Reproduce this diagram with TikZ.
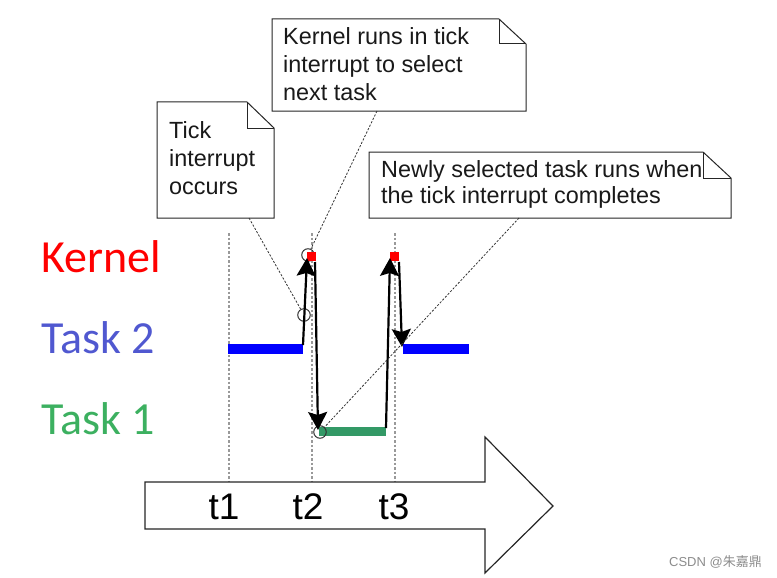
\documentclass[tikz,border=0pt]{standalone}
\usepackage{fontspec}
\setmainfont{Liberation Sans}
\newfontfamily\labfont{Carlito}
\newfontfamily\cjkfont{Noto Sans CJK SC}
\usetikzlibrary{arrows.meta}
\definecolor{kred}{HTML}{FF0000}
\definecolor{tblue}{HTML}{5058D0}
\definecolor{tgreen}{HTML}{3CB060}
\definecolor{bargreen}{HTML}{339966}
\definecolor{barblue}{HTML}{0000FF}
\tikzset{
  calloutbox/.style={draw=black!85, line width=1pt, fill=white},
  callouttext/.style={font=\fontsize{23.4}{28}\selectfont, align=left, anchor=base west, inner sep=0pt, text=black!90},
  pointer/.style={draw=black!80, line width=0.8pt, dash pattern=on 2.2pt off 1.6pt},
  guide/.style={draw=black!40, line width=1.6pt, dash pattern=on 2.5pt off 2pt},
  rowlabel/.style={font=\labfont\fontsize{46}{50}\selectfont, anchor=base west, inner sep=0pt},
  flow/.style={draw=black, line width=2.2pt, -{Stealth[length=18pt,width=19pt,inset=3pt]}},
  mark circ/.style={circle, draw=black!80, line width=1pt, minimum size=12.5pt, inner sep=0pt},
  tlabel/.style={font=\fontsize{37}{40}\selectfont, anchor=base, inner sep=0pt},
}
\begin{document}
\begin{tikzpicture}[x=1pt,y=-1pt]
\useasboundingbox (0,0) rectangle (777,578);
% guides
\coordinate (g1t) at (229,233); \coordinate (g1b) at (229,482);
\coordinate (g2t) at (312,233); \coordinate (g2b) at (312,482);
\coordinate (g3t) at (395,233); \coordinate (g3b) at (395,482);
\draw[guide] (g1t) -- (g1b);
\draw[guide] (g2t) -- (g2b);
\draw[guide] (g3t) -- (g3b);
% time arrow
\draw[draw=black!85, line width=1.2pt, fill=white] (145,482) -- (485,482) -- (485,437) -- (553,506) -- (485,573) -- (485,529) -- (145,529) -- cycle;
\node[tlabel] (t1) at (224,519) {t1};
\node[tlabel] (t2) at (308,519) {t2};
\node[tlabel] (t3) at (394,519) {t3};
% row labels
\node[rowlabel, text=kred] (lk) at (41,272) {Kernel};
\node[rowlabel, text=tblue] (l2) at (41,353) {Task 2};
\node[rowlabel, text=tgreen] (l1) at (41,434) {Task 1};
% bars
\fill[barblue] (228,344) rectangle (303,354);
\fill[barblue] (403,344) rectangle (469,354);
\fill[bargreen] (319,427) rectangle (386,436);
% circles
\node[mark circ] (c1) at (304,315) {};
\node[mark circ] (c2) at (308,255) {};
\node[mark circ] (c3) at (320,432) {};
% red squares
\fill[kred] (307,252) rectangle (316,261);
\fill[kred] (390,252) rectangle (399,261);
% flow arrows
\coordinate (a1s) at (303,345); \coordinate (a1e) at (307,258);
\coordinate (a2s) at (315,262); \coordinate (a2e) at (318,430);
\coordinate (a3s) at (386,428); \coordinate (a3e) at (390,258);
\coordinate (a4s) at (399,262); \coordinate (a4e) at (402,347);
\draw[flow] (a1s) -- (a1e);
\draw[flow] (a2s) -- (a2e);
\draw[flow] (a3s) -- (a3e);
\draw[flow] (a4s) -- (a4e);
% callout 1
\draw[calloutbox] (157,102) -- (247,102) -- (274,128) -- (274,218) -- (157,218) -- cycle;
\draw[calloutbox, fill=none] (247,102) -- (247,128) -- (274,128);
\node[callouttext] (n1) at (169,194) {Tick\\interrupt\\occurs};
\coordinate (p1) at (249,218);
\draw[pointer] (p1) -- (c1);
% callout 2
\draw[calloutbox] (272,19) -- (499,19) -- (526,44) -- (526,111) -- (272,111) -- cycle;
\draw[calloutbox, fill=none] (499,19) -- (499,44) -- (526,44);
\node[callouttext] (n2) at (283,100) {Kernel runs in tick\\interrupt to select\\next task};
\coordinate (p2) at (377,111);
\draw[pointer] (p2) -- (c2);
% callout 3
\draw[calloutbox] (369,152) -- (703,152) -- (731,178) -- (731,218) -- (369,218) -- cycle;
\draw[calloutbox, fill=none] (703,152) -- (703,178) -- (731,178);
\node[callouttext, font=\fontsize{23.4}{26}\selectfont] (n3) at (381,203) {Newly selected task runs when\\the tick interrupt completes};
\coordinate (p3) at (519,218);
\draw[pointer] (p3) -- (c3);
% watermark
\node[anchor=base east, inner sep=0pt, text=black!45, font=\fontsize{13}{15}\selectfont] (wm) at (762,566) {CSDN @{\cjkfont 朱嘉鼎}};
\end{tikzpicture}
\end{document}
